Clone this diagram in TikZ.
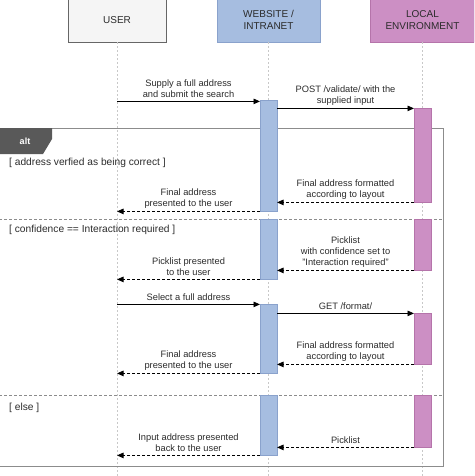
\documentclass[tikz,border=0pt]{standalone}
\usepackage{fontspec}
\setmainfont{Liberation Sans}
\usetikzlibrary{arrows.meta,positioning}
\definecolor{userfill}{HTML}{F5F5F5}
\definecolor{userline}{HTML}{666666}
\definecolor{webfill}{HTML}{A6BDE0}
\definecolor{webline}{HTML}{8AA2CC}
\definecolor{envfill}{HTML}{CC8FC4}
\definecolor{envline}{HTML}{B574AA}
\definecolor{altgrey}{HTML}{595959}
\definecolor{framegrey}{HTML}{8C8C8C}
\definecolor{lifegrey}{HTML}{C8C8C8}
\definecolor{txtgrey}{HTML}{2B2B2B}
\tikzset
{
    actor/.style    = {rectangle, draw=userline, fill=userfill, line width=0.8pt, minimum height=44pt, align=center, text=txtgrey, font=\fontsize{10}{12.5}\selectfont},
    webbar/.style   = {rectangle, draw=webline, fill=webfill, line width=0.6pt, minimum width=17pt, outer sep=0pt, inner sep=0pt},
    envbar/.style   = {rectangle, draw=envline, fill=envfill, line width=0.6pt, minimum width=17pt, outer sep=0pt, inner sep=0pt},
    lifeline/.style = {draw=lifegrey, line width=0.7pt, dash pattern=on 2pt off 2pt},
    msg/.style      = {draw=black, line width=0.8pt, -{Triangle[length=6.5pt,width=5.5pt]}},
    reply/.style    = {msg, dash pattern=on 3pt off 2pt},
    lbl/.style      = {above, align=center, text=txtgrey, inner sep=3pt, font=\fontsize{9.3}{11}\selectfont},
    guard/.style    = {anchor=west, inner sep=0pt, text=txtgrey, font=\fontsize{10.2}{12}\selectfont},
    separator/.style= {draw=framegrey, line width=0.8pt, dash pattern=on 3pt off 2pt}
}
\begin{document}
\begin{tikzpicture}[x=1pt, y=-1pt]

   \clip (0, 0) rectangle (474, 476);

   \node (user)  [actor, minimum width=98pt]                                   at (117, 20)   {USER};
   \node (web)   [actor, minimum width=103pt, draw=webline, fill=webfill]      at (268.5, 20) {WEBSITE /\\INTRANET};
   \node (local) [actor, minimum width=104pt, draw=envline, fill=envfill]      at (422.5, 20) {LOCAL\\ENVIRONMENT};

   %% lifelines
   \draw[lifeline] (user.south)  -- ++(0, 440);
   \draw[lifeline] (web.south)   -- ++(0, 440);
   \draw[lifeline] (local.south) -- ++(0, 440);

   %% alt frame
   \draw[draw=framegrey, line width=1pt] (-1, 128) rectangle (443, 466);
   \fill[altgrey] (-1, 128) -- (52, 128) -- (52, 139) -- (43, 154) -- (-1, 154) -- cycle;
   \node (alt) [text=white, font=\fontsize{9}{11}\selectfont\bfseries] at (25, 141) {alt};
   \draw[separator] (-1, 219) -- (443, 219);
   \draw[separator] (-1, 395) -- (443, 395);

   \node (g1) [guard] at (9, 163) {[ address verfied as being correct ]};
   \node (g2) [guard] at (9, 230) {[ confidence == Interaction required ]};
   \node (g3) [guard] at (9, 408) {[ else ]};

   %% activations
   \node (wb1) [webbar, minimum height=111pt, below=58pt of web]   {};
   \node (lb1) [envbar, minimum height=94pt,  below=66pt of local] {};
   \node (wb2) [webbar, minimum height=60pt,  below=8pt of wb1]    {};
   \node (lb2) [envbar, minimum height=51pt,  below=17pt of lb1]   {};
   \node (wb3) [webbar, minimum height=69pt,  below=25pt of wb2]   {};
   \node (lb3) [envbar, minimum height=51pt,  below=43pt of lb2]   {};
   \node (wb4) [webbar, minimum height=60pt,  below=22pt of wb3]   {};
   \node (lb4) [envbar, minimum height=52pt,  below=31pt of lb3]   {};

   \path
      ([yshift=-1pt]user.south |- wb1.north west) edge[msg]   node[lbl] {Supply a full address\\and submit the search} ([yshift=-1pt]wb1.north west)
      (wb1.east |- lb1.north west)                edge[msg]   node[lbl] {POST /validate/ with the\\supplied input} (lb1.north west)
      (lb1.south west)                            edge[reply] node[lbl] {Final address formatted\\according to layout} (wb1.east |- lb1.south west)
      (wb1.south west)                            edge[reply] node[lbl] {Final address\\presented to the user} (user.south |- wb1.south west)
      (lb2.south west)                            edge[reply] node[lbl] {Picklist\\with confidence set to\\"Interaction required"} (wb2.east |- lb2.south west)
      (wb2.south west)                            edge[reply] node[lbl] {Picklist presented\\to the user} (user.south |- wb2.south west)
      (user.south |- wb3.north west)              edge[msg]   node[lbl] {Select a full address} (wb3.north west)
      (wb3.east |- lb3.north west)                edge[msg]   node[lbl] {GET /format/} (lb3.north west)
      (lb3.south west)                            edge[reply] node[lbl] {Final address formatted\\according to layout} (wb3.east |- lb3.south west)
      (wb3.south west)                            edge[reply] node[lbl] {Final address\\presented to the user} (user.south |- wb3.south west)
      (lb4.south west)                            edge[reply] node[lbl] {Picklist} (wb4.east |- lb4.south west)
      (wb4.south west)                            edge[reply] node[lbl] {Input address presented\\back to the user} (user.south |- wb4.south west);

\end{tikzpicture}
\end{document}
